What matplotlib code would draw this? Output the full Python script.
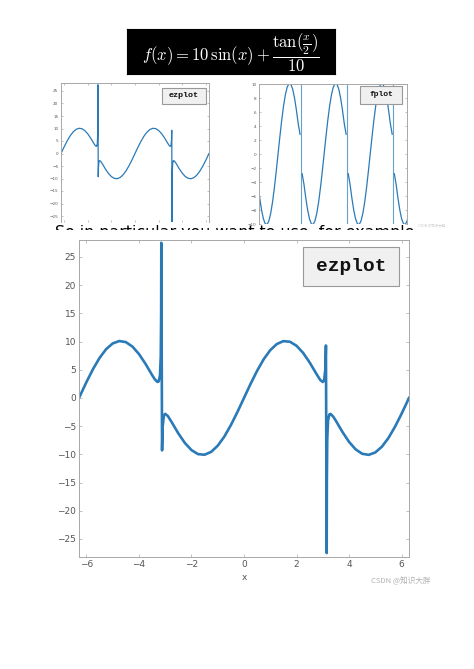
import numpy as np
import matplotlib
matplotlib.use("Agg")
import matplotlib.pyplot as plt
from matplotlib.patches import Rectangle

plt.rcParams['mathtext.fontset'] = 'cm'
plt.rcParams['font.family'] = ['DejaVu Sans', 'Noto Sans CJK SC']

W, H = 474, 669

# ezplot curve, values (x, f(x))
ez_x = [-6.283, -6.0, -5.75, -5.5, -5.25, -5.0, -4.75, -4.5, -4.25, -4.0, -3.75, -3.5,
        -3.4, -3.3, -3.25, -3.2, -3.17, -3.155, -3.149,
        -3.12, -3.1, -3.05, -3.0, -2.9, -2.75, -2.5, -2.25, -2.0, -1.75, -1.5, -1.25,
        -1.0, -0.75, -0.5, -0.25, 0.0, 0.25, 0.5, 0.75, 1.0, 1.25, 1.5, 1.75, 2.0,
        2.25, 2.5, 2.75, 2.9, 3.0, 3.05, 3.1, 3.12,
        3.149, 3.155, 3.17, 3.2, 3.25, 3.3, 3.4, 3.5, 3.75, 4.0, 4.25, 4.5, 4.75,
        5.0, 5.25, 5.5, 5.75, 6.0, 6.283]
ez_y = [0.0, 2.81, 5.11, 7.10, 8.65, 9.66, 10.09, 9.90, 9.11, 7.79, 6.04, 4.06,
        3.33, 2.84, 2.92, 4.00, 7.35, 15.0, 27.5,
        -9.3, -5.2, -3.10, -2.82, -3.21, -4.32, -6.29, -7.99, -9.25, -9.96, -10.07, -9.56,
        -8.47, -6.86, -4.82, -2.49, 0.0, 2.49, 4.82, 6.86, 8.47, 9.56, 10.07, 9.96, 9.25,
        7.99, 6.29, 4.32, 3.21, 2.82, 3.10, 5.2, 9.3,
        -27.5, -15.0, -7.35, -4.00, -2.92, -2.84, -3.33, -4.06, -6.04, -7.79, -9.11, -9.90, -10.09,
        -9.66, -8.65, -7.10, -5.11, -2.81, 0.0]
ez_xticks = [-6, -4, -2, 0, 2, 4, 6]
ez_yticks = [-25, -20, -15, -10, -5, 0, 5, 10, 15, 20, 25]

# fplot: one branch between two asymptotes (offset from branch centre)
fp_u = [-3.0, -2.75, -2.5, -2.25, -2.0, -1.75, -1.5, -1.25, -1.0, -0.75, -0.5, -0.25, 0.0,
        0.25, 0.5, 0.75, 1.0, 1.25, 1.5, 1.75, 2.0, 2.25, 2.5, 2.75, 3.0]
fp_y = [-2.82, -4.32, -6.29, -7.99, -9.25, -9.96, -10.07, -9.56, -8.47, -6.86, -4.82, -2.49, 0.0,
        2.49, 4.82, 6.86, 8.47, 9.56, 10.07, 9.96, 9.25, 7.99, 6.29, 4.32, 2.82]
fp_centers = [-2 * np.pi, 0.0, 2 * np.pi, 4 * np.pi]
fp_asym = [-np.pi, np.pi, 3 * np.pi]
fp_yticks = [-10, -8, -6, -4, -2, 0, 2, 4, 6, 8, 10]

BLUE = '#2a7ab8'
GRID = '#a8a8a8'

fig = plt.figure(figsize=(W / 100, H / 100), dpi=100)


def px_axes(l, t, r, b):
    return fig.add_axes([l / W, 1 - b / H, (r - l) / W, (b - t) / H])


def matlab_axes(ax, size, tlen):
    for s in ax.spines.values():
        s.set_color(GRID)
        s.set_linewidth(0.7)
    ax.tick_params(direction='in', length=tlen, width=0.5, color=GRID,
                   labelsize=size, labelcolor='#555555', top=True, right=True, pad=2)


def legend_box(ax, x0, y0, x1, y1, label, size):
    ax.add_patch(Rectangle((x0, y0), x1 - x0, y1 - y0, transform=ax.transAxes,
                           facecolor='#f0f0f0', edgecolor='#999999', lw=0.8, zorder=5))
    ax.text((x0 + x1) / 2, (y0 + y1) / 2, label, transform=ax.transAxes,
            ha='center', va='center', family='Liberation Mono', weight='bold',
            fontsize=size, color='#111111', zorder=6)


# formula box
axf = px_axes(127, 29, 335, 74)
axf.set_facecolor('black')
axf.set_xticks([])
axf.set_yticks([])
axf.text(0.5, 0.48, r'$f(x) = 10\,\sin(x) + \dfrac{\tan(\frac{x}{2})}{10}$',
         transform=axf.transAxes, ha='center', va='center', color='white', fontsize=12)

# small ezplot panel
ax1 = px_axes(61, 83, 209, 222)
ax1.plot(ez_x, ez_y, color=BLUE, lw=0.9)
ax1.set_xlim(-2 * np.pi, 2 * np.pi)
ax1.set_ylim(-27.4, 28.2)
ax1.set_yticks(ez_yticks)
ax1.set_xticks(ez_xticks)
ax1.set_xticklabels([])
matlab_axes(ax1, 3, 1.2)
ax1.spines['bottom'].set_visible(False)
legend_box(ax1, 0.682, 0.849, 0.980, 0.964, 'ezplot', 6)

# small fplot panel
ax2 = px_axes(259, 84, 407, 224)
for c in fp_centers:
    ax2.plot([c + u for u in fp_u], fp_y, color=BLUE, lw=0.9)
for a in fp_asym:
    ax2.axvline(a, color=BLUE, lw=0.8, alpha=0.7)
ax2.set_xlim(-8.88, 11.3)
ax2.set_ylim(-10, 10)
ax2.set_yticks(fp_yticks)
ax2.set_xticks([])
matlab_axes(ax2, 3, 1.2)
ax2.spines['bottom'].set_visible(False)
legend_box(ax2, 0.682, 0.857, 0.966, 0.986, 'fplot', 5.8)
fig.text(432 / W, 1 - 225 / H, 'CSDN @知识大胖', fontsize=2.5, color='#c8c8c8',
         ha='center', va='center', family=['Noto Sans CJK SC', 'DejaVu Sans'])

# line of text between the panels, its lower half hidden under the big panel
fig.text(55 / W, 1 - 237 / H, 'So in particular you want to use, for example',
         fontsize=11.4, color='black', va='baseline', ha='left', zorder=1)
fig.add_artist(Rectangle((0, 1 - 240 / H), 1, 10 / H, transform=fig.transFigure,
                         facecolor='white', edgecolor='none', zorder=2))

# big ezplot panel
ax = px_axes(79, 240, 409, 557)
ax.set_zorder(3)
ax.plot(ez_x, ez_y, color=BLUE, lw=1.9, solid_joinstyle='round')
ax.set_xlim(-2 * np.pi, 2 * np.pi)
ax.set_ylim(-28.2, 28)
ax.set_xticks(ez_xticks)
ax.set_yticks(ez_yticks)
matlab_axes(ax, 6.5, 2.5)
legend_box(ax, 0.679, 0.855, 0.970, 0.978, 'ezplot', 14)
fig.text(244 / W, 1 - 577 / H, 'x', fontsize=6.5, color='#555555', ha='center', va='center')
fig.text(401 / W, 1 - 581 / H, 'CSDN @知识大胖', fontsize=5.5, color='#b0b0b0',
         ha='center', va='center', family=['Noto Sans CJK SC', 'DejaVu Sans'])

fig.savefig('out.png', dpi=100)
